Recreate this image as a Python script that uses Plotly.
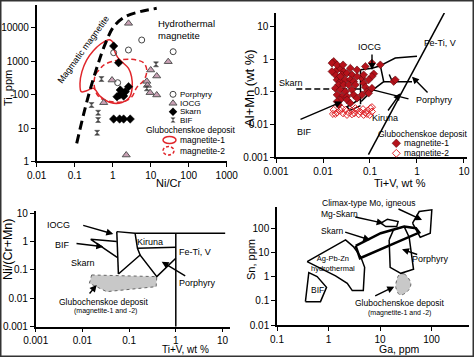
import plotly.graph_objects as go

W, H = 474, 357
FONT = "Arial, Liberation Sans, sans-serif"

# ---------------- Panel 1: Ti vs Ni/Cr ----------------
bound_x = [0.113, 0.214, 0.39, 0.644, 1.06, 2.14, 5.26, 14.4]
bound_y = [3.47, 69, 692, 3467, 10965, 21878, 30900, 38900]

porph_x = [5.8, 2.6, 1.06, 39, 1.35]
porph_y = [4365, 2188, 1820, 1950, 229]

iocg_x = [2.61, 28.9, 10, 14.4, 0.96, 7.9, 8.2, 9.6, 14.4, 0.58, 2.27]
iocg_y = [13800, 977, 550, 363, 275, 251, 190, 115, 98, 57.5, 1.55]

skarn_x = [1.06, 1.43, 2.61, 1.58, 2.14, 1.52, 1.3, 1.94, 1.06, 1.52, 1.94, 2.89]
skarn_y = [2884, 912, 174, 138, 123, 98, 87, 91, 18.6, 18.6, 18.6, 18.6]

bif_x = [0.506, 13.8, 0.277, 0.414, 0.414, 0.39, 7.9]
bif_y = [295, 813, 49, 28.8, 17.4, 7.2, 155]

mag1_x = [0.74, 0.48, 0.31, 0.206, 0.155, 0.138, 0.149, 0.206, 0.31, 0.48, 0.87, 1.75,
          2.77, 3.26, 3.13, 2.61, 1.86, 1.35, 1.10, 1.02, 0.87, 0.74]
mag1_y = [4365, 3311, 2089, 1096, 490, 219, 123, 132, 155, 87, 58, 58,
          83, 166, 347, 617, 912, 1318, 2188, 3631, 4365, 4365]

mag2_x = [0.58, 1.17, 3.19, 6.44, 7.87, 6.7, 4.31, 3.19, 1.94, 0.87, 0.43, 0.33, 0.35, 0.48, 0.58]
mag2_y = [776, 1047, 1148, 912, 550, 275, 166, 87, 62, 62, 87, 174, 389, 617, 776]

# ---------------- Panel 2: Al+Mn vs Ti+V ----------------
p2_lines = [
    ([0.0927, 3.83], [0.0012, 26.0]),                      # Fe-Ti,V long line
    ([0.166, 0.345, 1.0], [0.63, 1.08, 1.23]),            # top of Porphyry
    ([0.0629, 0.111, 0.166], [0.47, 0.53, 0.63]),          # top of IOCG
    ([0.166, 0.196, 0.115, 0.065], [0.63, 0.204, 0.115, 0.051]),
    ([0.196, 0.784], [0.204, 0.204]),
    ([0.257, 0.30], [0.34, 0.204]),
    ([0.115, 0.66], [0.115, 0.061]),
    ([0.0629, 0.0629], [0.47, 0.042]),
    ([0.0629, 0.0323, 0.0377, 0.0629], [0.061, 0.035, 0.0272, 0.038]),
]
p2_skarn_solid = ([0.0362, 0.0629], [0.123, 0.123])
p2_skarn_dash = ([0.0027, 0.0362], [0.123, 0.123])

m1_x = [0.0169, 0.0155, 0.0199, 0.0234, 0.0275, 0.0183, 0.0254, 0.0324, 0.0414, 0.0529,
        0.0796, 0.0199, 0.0234, 0.0299, 0.0382, 0.0449, 0.0215, 0.0275, 0.0352, 0.0488,
        0.0183, 0.0234, 0.0299, 0.0414, 0.0199, 0.0254, 0.0324, 0.0449, 0.0234, 0.0324,
        0.0199, 0.0676, 0.0733, 0.0796, 0.0863, 0.0676, 0.110, 0.120, 0.110, 0.166,
        0.110, 0.319, 0.346, 0.0199, 0.0267, 0.0382, 0.0937, 0.0733, 0.0529, 0.0382,
        0.0215, 0.0155, 0.0234, 0.0529, 0.0937]
m1_y = [0.849, 0.755, 0.471, 0.530, 0.419, 0.331, 0.331, 0.373, 0.331, 0.471,
        0.597, 0.233, 0.207, 0.233, 0.233, 0.207, 0.164, 0.164, 0.164, 0.164,
        0.129, 0.115, 0.102, 0.115, 0.081, 0.072, 0.072, 0.081, 0.057, 0.057,
        0.0506, 0.262, 0.184, 0.139, 0.102, 0.081, 0.129, 0.356, 0.295, 0.671,
        0.755, 0.207, 0.233, 0.671, 0.671, 0.530, 0.233, 0.331, 0.064, 0.045,
        0.040, 0.419, 0.295, 0.295, 0.091]

m2_x = [0.0169, 0.0199, 0.0234, 0.0267, 0.0299, 0.0352, 0.0414, 0.0464, 0.0529, 0.0623,
        0.0710, 0.0796, 0.0892, 0.1016, 0.110, 0.0183, 0.0324, 0.0574, 0.0863, 0.110,
        0.0254, 0.0414, 0.0163, 0.0733, 0.0488, 0.0984]
m2_y = [0.0281, 0.0233, 0.0268, 0.0222, 0.0281, 0.0233, 0.0268, 0.0222, 0.0281, 0.0244,
        0.0295, 0.0233, 0.0268, 0.0316, 0.025, 0.0212, 0.0198, 0.0207, 0.0212, 0.034,
        0.0309, 0.0207, 0.0212, 0.0198, 0.0316, 0.0198]

# ---------------- Panel 3: Ni/(Cr+Mn) vs Ti+V ----------------
p3_lines = [
    ([0.0545, 0.1345, 11.4], [2.25, 1.97, 1.97]),
    ([0.0545, 0.059], [2.25, 0.0723]),
    ([0.059, 0.172, 0.392, 1.0], [0.0723, 0.338, 0.0582, 0.258]),
    ([0.1345, 0.151, 0.172], [1.97, 0.582, 0.338]),
    ([0.151, 1.0], [0.582, 0.631]),
    ([1.0, 1.0], [1.97, 0.001]),
    ([0.0545, 0.0151, 0.0555], [1.0, 1.21, 0.28]),
]
glub3_x = [0.0158, 0.392, 0.379, 0.0332, 0.0141, 0.0158]
glub3_y = [0.0667, 0.0582, 0.0258, 0.0172, 0.0339, 0.0667]

# ---------------- Panel 4: Sn vs Ga ----------------
p4_fields = {
    "BIF": ([0.356, 0.414, 0.601, 0.914, 0.698, 0.356], [0.0924, 1.466, 1.0, 0.362, 0.0924, 0.0924]),
    "AgPbZn": ([0.384, 2.14, 3.03, 4.2, 5.02, 4.73, 2.89, 2.31, 1.37, 0.384],
               [4.18, 32.9, 17.4, 6.73, 2.43, 0.264, 0.264, 0.53, 1.07, 4.18]),
    "MgSkarn": ([10.3, 13.9, 22.4, 21.1, 12.9, 10.3], [161, 236, 189, 117, 117, 161]),
    "Climax": ([42.7, 57.5, 101, 94.2, 60.1, 42.7], [161, 490, 574, 62.1, 42.5, 161]),
    "Porphyry": ([15.0, 18.2, 29.4, 36.7, 44.6, 25.3, 15.7, 15.0], [32.9, 85.3, 117, 42.5, 2.01, 1.37, 2.43, 32.9]),
}
skarn4_x = [3.36, 10.3, 29.4, 49.6, 57.5, 4.07, 3.36]
skarn4_y = [18.6, 62.1, 117, 100, 66.2, 5.74, 18.6]
glub4_x = [23.4, 29.4, 39.5, 35.1, 24.5, 20.2, 21.1, 23.4]
glub4_y = [1.17, 1.29, 0.53, 0.264, 0.174, 0.362, 0.728, 1.17]

# tick labels
t1x = [0.01, 0.1, 1, 10, 100, 1000]
t1y = [1, 10, 100, 1000, 10000]
t2x = [0.001, 0.01, 0.1, 1, 10]
t2y = [0.001, 0.01, 0.1, 1, 10]
t3x = [0.001, 0.01, 0.1, 1, 10]
t3y = [0.001, 0.01, 0.1, 1, 10]
t4x = [0.1, 1, 10, 100]
t4y = [0.01, 0.1, 1, 10, 100]

fig = go.Figure()

def line(x, y, xa, ya, color="black", width=1.5, dash="solid", shape="linear", fill=None, fillcolor=None):
    fig.add_trace(go.Scatter(x=x, y=y, xaxis=xa, yaxis=ya, mode="lines",
                             line=dict(color=color, width=width, dash=dash, shape=shape),
                             fill=fill, fillcolor=fillcolor, hoverinfo="skip", showlegend=False))

def pts(x, y, xa, ya, symbol, size, color, lcolor, lw=1):
    fig.add_trace(go.Scatter(x=x, y=y, xaxis=xa, yaxis=ya, mode="markers",
                             marker=dict(symbol=symbol, size=size, color=color,
                                         line=dict(color=lcolor, width=lw)),
                             hoverinfo="skip", showlegend=False, cliponaxis=False))

RED = "#e0262b"
DRED = "#b5121b"
TRI = "#c9a0b4"

# panel 1
line(mag1_x, mag1_y, "x", "y", color=RED, width=1.5, shape="spline")
line(mag2_x, mag2_y, "x", "y", color=RED, width=1.5, dash="5px,3px", shape="spline")
line(bound_x, bound_y, "x", "y", color="black", width=3, dash="9px,5px", shape="spline")
pts(porph_x, porph_y, "x", "y", "circle-open", 6, "#444", "#444", 1)
pts(iocg_x, iocg_y, "x", "y", "triangle-up", 7, TRI, "#555", 1)
pts(skarn_x, skarn_y, "x", "y", "diamond", 6.5, "black", "black", 0.5)
pts(bif_x, bif_y, "x", "y", "hourglass", 5, "#444", "#444", 0.5)

# panel 2
for lx, ly in p2_lines:
    line(lx, ly, "x2", "y2", width=1.5)
line(*p2_skarn_solid, "x2", "y2", width=1.5)
line(*p2_skarn_dash, "x2", "y2", width=1.5, dash="6px,3px")
pts(m2_x, m2_y, "x2", "y2", "diamond-open", 5.5, RED, RED, 1)
pts(m1_x, m1_y, "x2", "y2", "diamond", 6, DRED, "#5a0a0e", 0.6)

# panel 3
line(glub3_x, glub3_y, "x3", "y3", color="#666", width=1, dash="dot", fill="toself", fillcolor="#c8c8c8")
for lx, ly in p3_lines:
    line(lx, ly, "x3", "y3", width=1.5)

# panel 4
line(glub4_x, glub4_y, "x4", "y4", color="#666", width=1, dash="dot", shape="spline", fill="toself", fillcolor="#c8c8c8")
for k, (lx, ly) in p4_fields.items():
    line(lx, ly, "x4", "y4", width=1.5)
line(skarn4_x, skarn4_y, "x4", "y4", width=2.5)

# legend swatches (overlay pixel axis)
leg_x = [173, 173, 173, 173]
leg_y = [94.3, 103.3, 111.7, 120]
fig.add_trace(go.Scatter(x=[leg_x[0]], y=[leg_y[0]], xaxis="x5", yaxis="y5", mode="markers",
                         marker=dict(symbol="circle-open", size=6, color="#444", line=dict(width=1)), showlegend=False, hoverinfo="skip"))
fig.add_trace(go.Scatter(x=[leg_x[1]], y=[leg_y[1]], xaxis="x5", yaxis="y5", mode="markers",
                         marker=dict(symbol="triangle-up", size=7, color=TRI, line=dict(color="#555", width=1)), showlegend=False, hoverinfo="skip"))
fig.add_trace(go.Scatter(x=[leg_x[2]], y=[leg_y[2]], xaxis="x5", yaxis="y5", mode="markers",
                         marker=dict(symbol="diamond", size=6.5, color="black"), showlegend=False, hoverinfo="skip"))
fig.add_trace(go.Scatter(x=[leg_x[3]], y=[leg_y[3]], xaxis="x5", yaxis="y5", mode="markers",
                         marker=dict(symbol="hourglass", size=5, color="#444"), showlegend=False, hoverinfo="skip"))
fig.add_trace(go.Scatter(x=[396.3], y=[143.3], xaxis="x5", yaxis="y5", mode="markers",
                         marker=dict(symbol="diamond", size=6.5, color=DRED, line=dict(color="#5a0a0e", width=0.6)), showlegend=False, hoverinfo="skip"))
fig.add_trace(go.Scatter(x=[396.3], y=[153.3], xaxis="x5", yaxis="y5", mode="markers",
                         marker=dict(symbol="diamond-open", size=6, color=RED, line=dict(width=1)), showlegend=False, hoverinfo="skip"))

shapes = [
    dict(type="circle", xref="x5", yref="y5", x0=163, x1=176, y0=136.5, y1=143.5, line=dict(color=RED, width=1.5)),
    dict(type="circle", xref="x5", yref="y5", x0=163, x1=174, y0=146.5, y1=155, line=dict(color=RED, width=1.5, dash="3px,2px")),
    dict(type="rect", xref="paper", yref="paper", x0=0, x1=1, y0=0, y1=1, line=dict(color="#333", width=3)),
]

ann = []
def txt(s, x, y, size=9, angle=0, xanchor="center", align="center", color="black"):
    ann.append(dict(text=s, x=x, y=y, xref="x5", yref="y5", showarrow=False, textangle=angle,
                    xanchor=xanchor, yanchor="middle", align=align, borderpad=0,
                    font=dict(family=FONT, size=size, color=color)))

def arrow(tx, ty, hx, hy):
    ann.append(dict(text="", x=hx, y=hy, ax=tx, ay=ty, xref="x5", yref="y5", axref="x5", ayref="y5",
                    showarrow=True, arrowhead=2, arrowsize=1, arrowwidth=1.4, arrowcolor="black"))

# panel 1 texts
txt("Magmatic magnetite", 83, 50, 9, -54)
txt("Hydrothermal<br>magnetite", 157, 29, 9.5, xanchor="left", align="left")
txt("Porphyry", 179, 94.3, 8, xanchor="left")
txt("IOCG", 179, 103.3, 8, xanchor="left")
txt("Skarn", 179, 111.7, 8, xanchor="left")
txt("BIF", 179, 120.2, 8, xanchor="left")
txt("Glubochenskoe deposit", 145, 129.5, 8.5, xanchor="left")
txt("magnetite-1", 179, 140, 8.5, xanchor="left")
txt("magnetite-2", 179, 150.7, 8.5, xanchor="left")
txt("Ti, ppm", 8, 88, 11, -90)
txt("Ni/Cr", 168, 183, 11)

# panel 2 texts
txt("IOCG", 369, 46.7, 9); arrow(372, 53, 372, 70)
txt("Skarn", 291, 83.3, 9)
txt("Fe-Ti, V", 440, 42.7, 9)
txt("Porphyry", 434, 100, 9); arrow(429, 94, 412, 76.7)
txt("Kiruna", 385, 118.3, 9); arrow(387, 112, 400.3, 93.3)
txt("BIF", 304, 131.7, 9); arrow(299, 120, 342, 101.7)
txt("Glubochenskoe deposit", 422, 134, 8.5)
txt("magnetite-1", 403, 143.3, 8.5, xanchor="left")
txt("magnetite-2", 403, 153.3, 8.5, xanchor="left")
txt("Al+Mn (wt %)", 249, 88, 13, -90)
txt("Ti+V, wt %", 400, 183, 11)

# panel 3 texts
txt("IOCG", 58, 225, 9); arrow(81.7, 225, 113.3, 234)
txt("BIF", 62, 245, 9); arrow(75, 243.3, 103.3, 246.7)
txt("Skarn", 83, 262.7, 9)
txt("Kiruna", 150, 241.7, 9)
txt("Fe-Ti, V", 195, 251.7, 9)
txt("Porphyry", 197, 283.3, 9); arrow(186.7, 276.7, 161.7, 261.7)
txt("Glubochenskoe deposit", 103, 301.7, 8.5)
txt("(magnetite-1 and -2)", 105, 310.7, 7)
arrow(88.3, 295, 96.7, 285)
txt("Ni/(Cr+Mn)", 8, 250, 12.5, -90)
txt("Ti+V, wt %", 185, 349.5, 10)

# panel 4 texts
txt("Climax-type Mo, igneous", 369, 203.3, 8.5); arrow(397, 208.3, 422, 220)
txt("Mg-Skarn", 339, 214.3, 8.5); arrow(353.7, 216.7, 383.7, 223.3)
txt("Skarn", 332, 230.7, 8.5); arrow(343.7, 231.7, 370.3, 240)
txt("Ag-Pb-Zn<br>hydrothermal", 333, 263, 7.5)
txt("BIF", 317, 290, 8.5)
txt("Porphyry", 430, 259.3, 9); arrow(418.7, 255, 402, 249.3)
txt("Glubochenskoe deposit", 399, 303.3, 8.5)
txt("(magnetite-1 and -2)", 399, 312.7, 7)
arrow(373.7, 296.7, 394.3, 286.7)
txt("Sn, ppm", 251, 260, 11, -90)
txt("Ga, ppm", 399, 349, 10.5)

def ax(domain, rng, tv, anchor):
    return dict(type="log", domain=domain, range=rng, anchor=anchor, showline=True, linecolor="black",
                linewidth=1.5, ticks="outside", ticklen=4, tickwidth=1.2, tickcolor="black",
                showgrid=False, zeroline=False, tickvals=tv, ticktext=[("%g" % v) for v in tv],
                tickfont=dict(family=FONT, size=10, color="black"), fixedrange=True,
                automargin=False)

fig.update_layout(
    template="none",
    width=W, height=H, autosize=False, margin=dict(l=0, r=0, t=0, b=0, pad=0),
    paper_bgcolor="white", plot_bgcolor="rgba(0,0,0,0)", showlegend=False,
    xaxis=ax([0.0774, 0.4783], [-2, 3], t1x, "y"),
    yaxis=ax([0.548, 0.986], [0, 4.69], t1y, "x"),
    xaxis2=ax([0.5823, 0.9848], [-3, 1.06], t2x, "y2"),
    yaxis2=ax([0.5594, 0.9636], [-3, 1.41], t2y, "x2"),
    xaxis3=ax([0.0753, 0.4852], [-3, 1.16], t3x, "y3"),
    yaxis3=ax([0.0849, 0.409], [-3, 1.08], t3y, "x3"),
    xaxis4=ax([0.5844, 0.9888], [-1, 2.72], t4x, "y4"),
    yaxis4=ax([0.0896, 0.421], [-2, 2.89], t4y, "x4"),
    xaxis5=dict(domain=[0, 1], range=[0, W], visible=False, fixedrange=True, anchor="y5", automargin=False),
    yaxis5=dict(domain=[0, 1], range=[H, 0], visible=False, fixedrange=True, anchor="x5", automargin=False),
    annotations=ann, shapes=shapes,
)

fig.write_html("out.html", config={"displayModeBar": False},
               post_script="document.body.style.margin='0';document.body.style.overflow='hidden';")
